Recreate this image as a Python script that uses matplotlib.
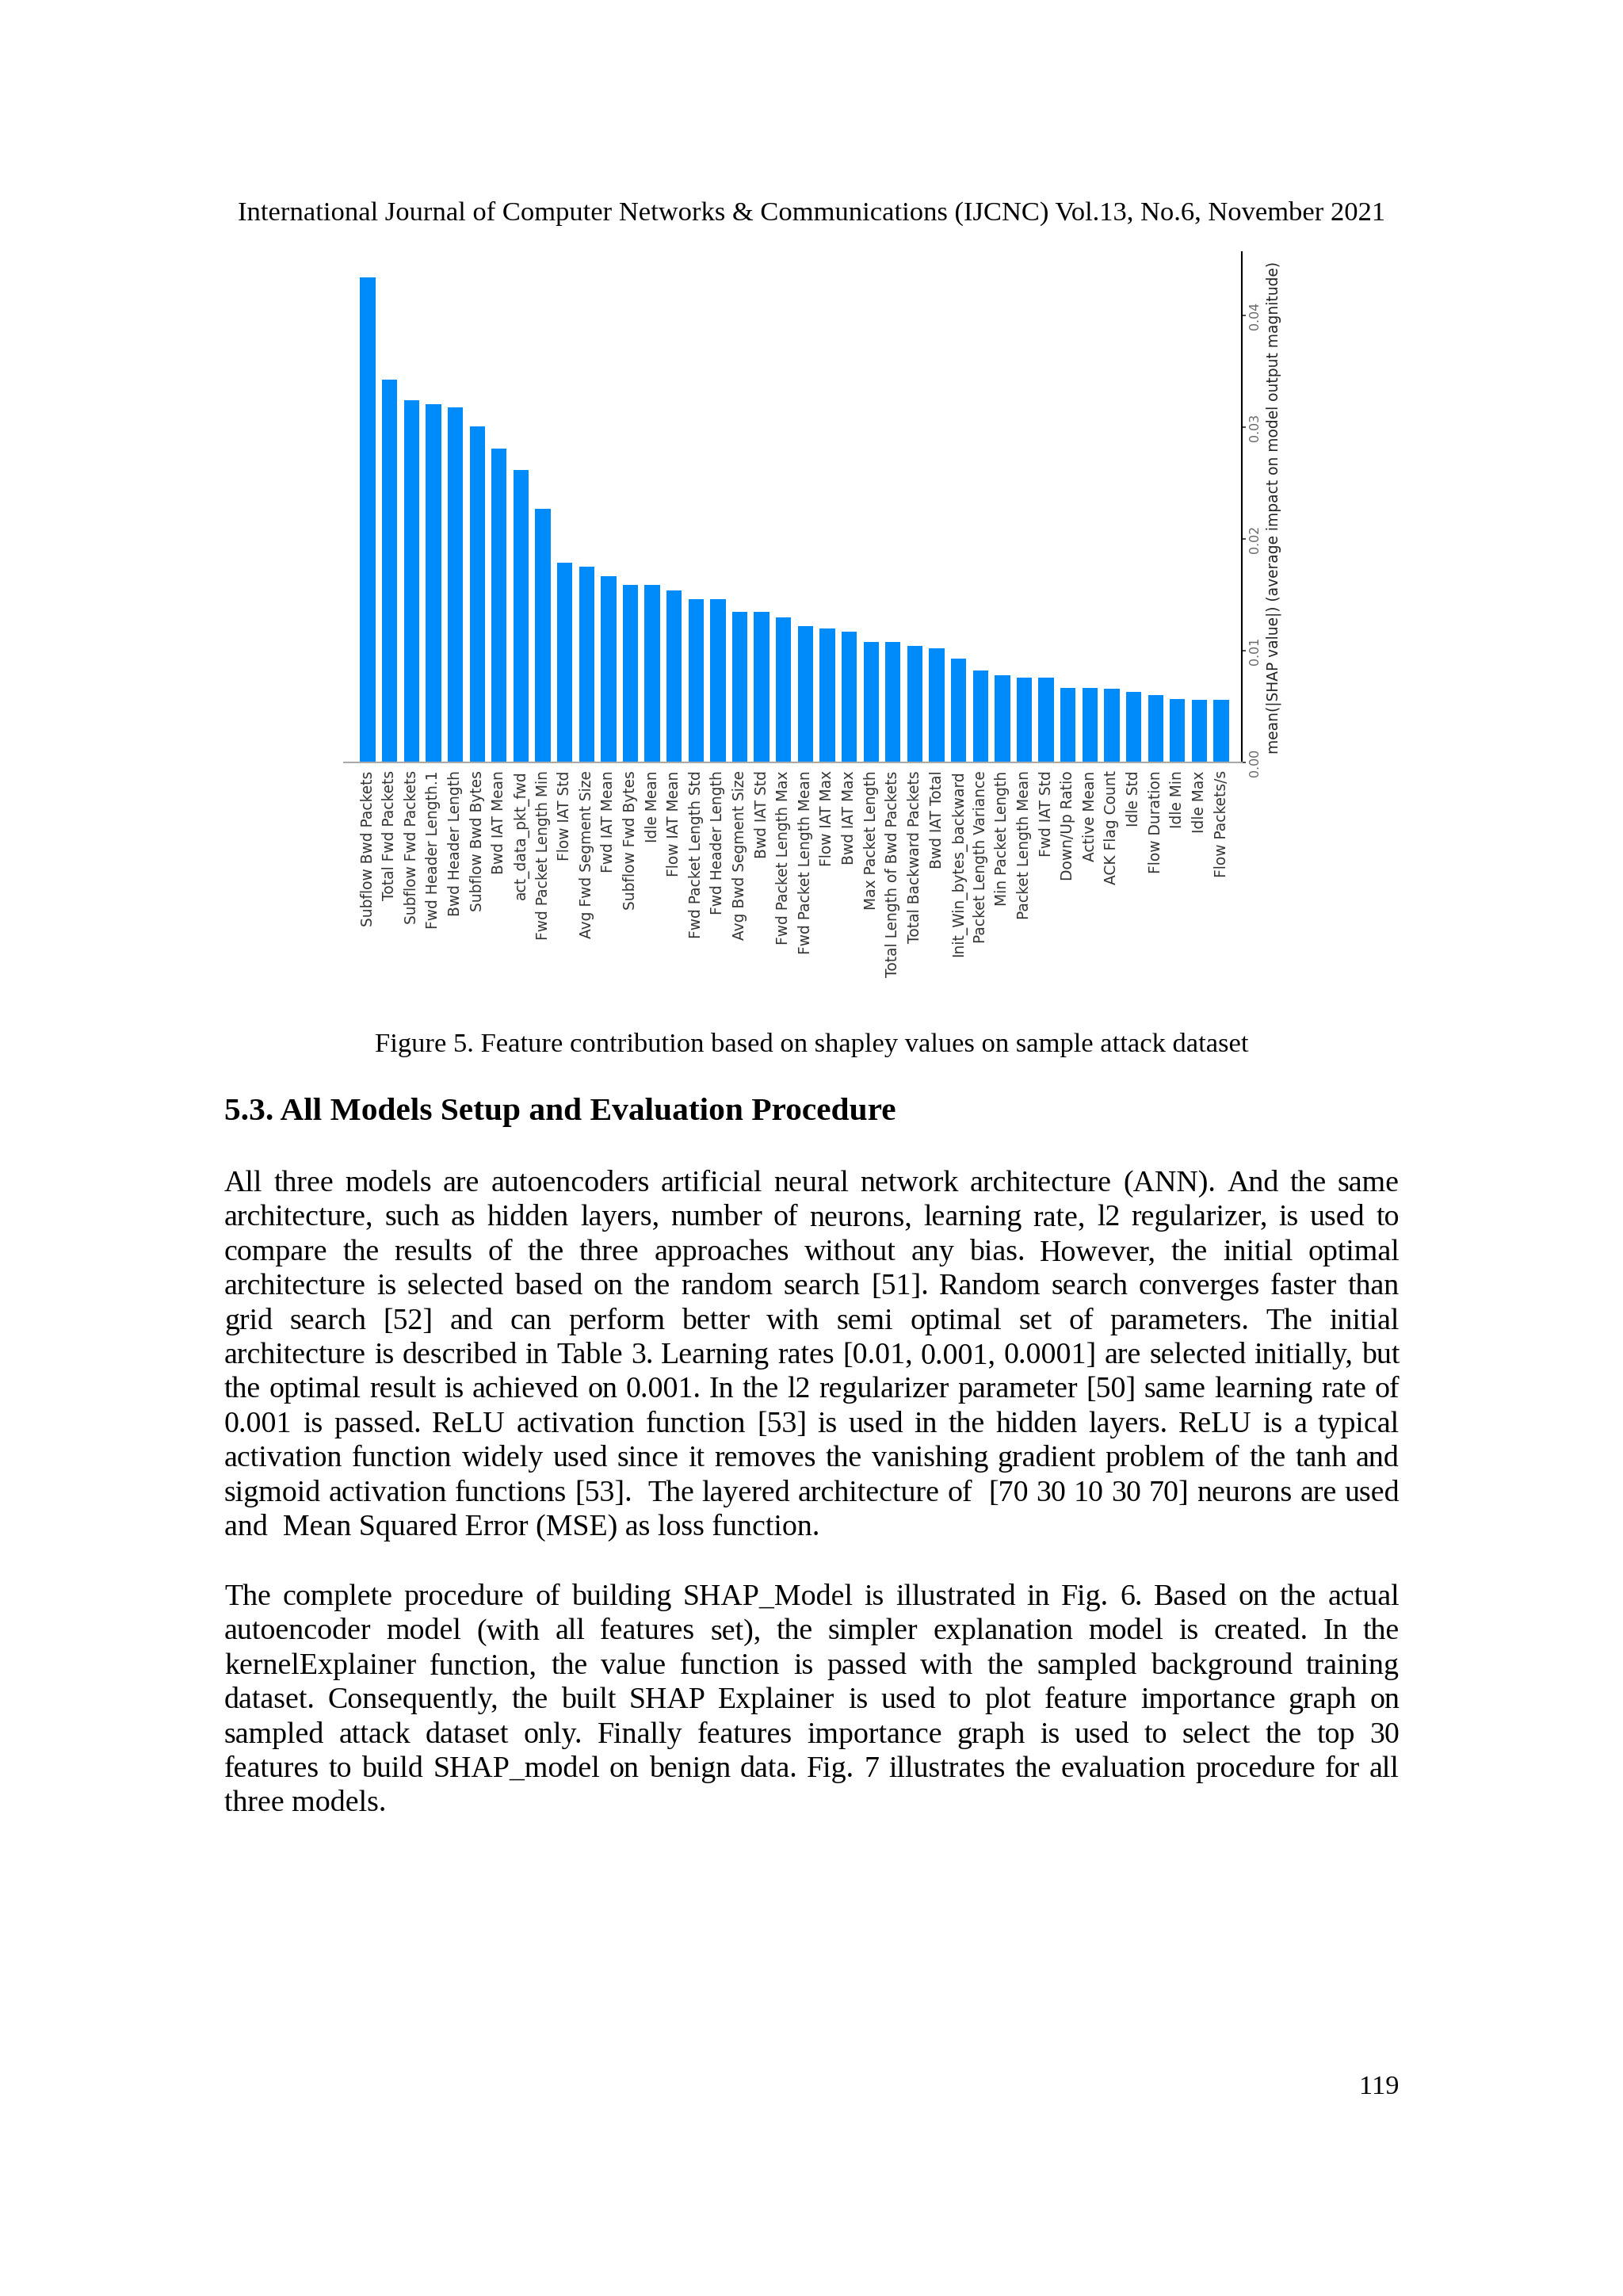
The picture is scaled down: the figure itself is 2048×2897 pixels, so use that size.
import matplotlib
matplotlib.use('Agg')
import matplotlib.pyplot as plt
import numpy as np

# ---- chart data ----
features = [
    'Subflow Bwd Packets', 'Total Fwd Packets', 'Subflow Fwd Packets', 'Fwd Header Length.1',
    'Bwd Header Length', 'Subflow Bwd Bytes', 'Bwd IAT Mean', 'act_data_pkt_fwd',
    'Fwd Packet Length Min', 'Flow IAT Std', 'Avg Fwd Segment Size', 'Fwd IAT Mean',
    'Subflow Fwd Bytes', 'Idle Mean', 'Flow IAT Mean', 'Fwd Packet Length Std',
    'Fwd Header Length', 'Avg Bwd Segment Size', 'Bwd IAT Std', 'Fwd Packet Length Max',
    'Fwd Packet Length Mean', 'Flow IAT Max', 'Bwd IAT Max', 'Max Packet Length',
    'Total Length of Bwd Packets', 'Total Backward Packets', 'Bwd IAT Total',
    'Init_Win_bytes_backward', 'Packet Length Variance', 'Min Packet Length',
    'Packet Length Mean', 'Fwd IAT Std', 'Down/Up Ratio', 'Active Mean', 'ACK Flag Count',
    'Idle Std', 'Flow Duration', 'Idle Min', 'Idle Max', 'Flow Packets/s',
]
shap_values = [
    0.0434, 0.0343, 0.0324, 0.0321, 0.0318, 0.0301, 0.0281, 0.0262, 0.0227, 0.0179,
    0.0175, 0.0167, 0.0159, 0.0159, 0.0154, 0.0146, 0.0146, 0.0135, 0.0135, 0.0130,
    0.0122, 0.0120, 0.0117, 0.0108, 0.0108, 0.0104, 0.0102, 0.0093, 0.0082, 0.0078,
    0.0076, 0.0076, 0.0067, 0.0067, 0.0066, 0.0063, 0.0060, 0.0057, 0.0056, 0.0056,
]
y_ticks = [0.00, 0.01, 0.02, 0.03, 0.04]
y_tick_labels = ['0.00', '0.01', '0.02', '0.03', '0.04']

# ---- page text ----
header = ('International Journal of Computer Networks & Communications (IJCNC) '
          'Vol.13, No.6, November 2021')
caption = 'Figure 5. Feature contribution based on shapley values on sample attack dataset'
heading = '5.3. All Models Setup and Evaluation Procedure'
para1 = [
    'All three models are autoencoders artificial neural network architecture (ANN). And the same',
    'architecture, such as hidden layers, number of neurons, learning rate, l2 regularizer, is used to',
    'compare the results of the three approaches without any bias. However, the initial optimal',
    'architecture is selected based on the random search [51]. Random search converges faster than',
    'grid search [52] and can perform better with semi optimal set of parameters. The initial',
    'architecture is described in Table 3. Learning rates [0.01, 0.001, 0.0001] are selected initially, but',
    'the optimal result is achieved on 0.001. In the l2 regularizer parameter [50] same learning rate of',
    '0.001 is passed. ReLU activation function [53] is used in the hidden layers. ReLU is a typical',
    'activation function widely used since it removes the vanishing gradient problem of the tanh and',
    'sigmoid activation functions [53].  The layered architecture of  [70 30 10 30 70] neurons are used',
    'and  Mean Squared Error (MSE) as loss function.',
]
para2 = [
    'The complete procedure of building SHAP_Model is illustrated in Fig. 6. Based on the actual',
    'autoencoder model (with all features set), the simpler explanation model is created. In the',
    'kernelExplainer function, the value function is passed with the sampled background training',
    'dataset. Consequently, the built SHAP Explainer is used to plot feature importance graph on',
    'sampled attack dataset only. Finally features importance graph is used to select the top 30',
    'features to build SHAP_model on benign data. Fig. 7 illustrates the evaluation procedure for all',
    'three models.',
]
page_no = '119'

W, H, DPI = 2048, 2897, 248
SERIF = 'Liberation Serif'
LEFT, RIGHT = 283, 1766
LEAD = 43.4

fig = plt.figure(figsize=(W / DPI, H / DPI), dpi=DPI)
fig.patch.set_facecolor('white')

# SHAP bar plot (rotated layout)
ax = fig.add_axes([434 / W, 1 - 962 / H, (1567 - 434) / W, (962 - 318) / H])
x = np.arange(len(features))
ax.bar(x, shap_values, width=0.7, color='#008bfb')
ax.set_xlim(-1.09, 39.94)
ax.set_ylim(0, 0.0457)
ax.set_xticks(x)
ax.set_xticklabels(features, rotation=90, fontsize=5.4, color='#333333')
ax.tick_params(axis='x', length=0, pad=3)
ax.yaxis.tick_right()
ax.yaxis.set_label_position('right')
ax.set_yticks(y_ticks)
ax.set_yticklabels(y_tick_labels, rotation=90, va='center', fontsize=4.6, color='#666666')
ax.tick_params(axis='y', length=1.5, width=0.5, pad=1, color='#333333')
ax.set_ylabel('mean(|SHAP value|) (average impact on model output magnitude)',
              fontsize=5.4, color='#222222', labelpad=2)
ax.spines['top'].set_visible(False)
ax.spines['left'].set_visible(False)
ax.spines['right'].set_linewidth(0.6)
ax.spines['bottom'].set_color('#aaaaaa')
ax.spines['bottom'].set_linewidth(0.6)


def fy(py):
    return 1 - py / H


fig.text(0.5, fy(278), header, fontsize=10, family=SERIF, ha='center', va='baseline')
fig.text(0.5, fy(1327), caption, fontsize=10, family=SERIF, ha='center', va='baseline')
fig.text(LEFT / W, fy(1413), heading, fontsize=12, family=SERIF, weight='bold', va='baseline')
fig.text(RIGHT / W, fy(2642), page_no, fontsize=10, family=SERIF, ha='right', va='baseline')

renderer = fig.canvas.get_renderer()


def draw_paragraph(lines, y0, fs=11):
    for i, line in enumerate(lines):
        y = fy(y0 + i * LEAD)
        if i == len(lines) - 1:
            fig.text(LEFT / W, y, line, fontsize=fs, family=SERIF, va='baseline')
            continue
        words = line.split(' ')
        arts = [fig.text(0, y, w, fontsize=fs, family=SERIF, va='baseline') for w in words]
        widths = [a.get_window_extent(renderer).width if w else 0 for a, w in zip(arts, words)]
        gap = (RIGHT - LEFT - sum(widths)) / (len(words) - 1)
        xpos = LEFT
        for a, w in zip(arts, widths):
            a.set_x(xpos / W)
            xpos += w + gap


draw_paragraph(para1, 1503)
draw_paragraph(para2, 2025)

fig.savefig('out.png', dpi=DPI)
